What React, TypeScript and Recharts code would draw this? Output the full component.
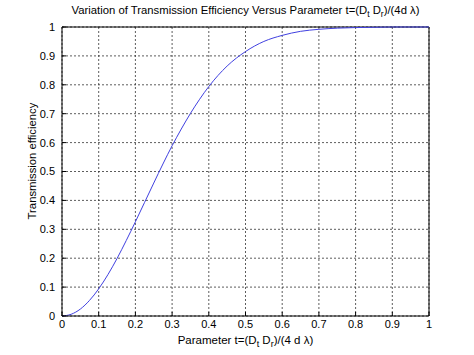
import React from 'react';
import { LineChart, Line, XAxis, YAxis, CartesianGrid, Label, ReferenceLine } from 'recharts';

const tValues = [0, 0.025, 0.05, 0.075, 0.1, 0.125, 0.15, 0.175, 0.2, 0.225, 0.25, 0.275, 0.3, 0.325, 0.35, 0.375, 0.4, 0.45, 0.5, 0.55, 0.6, 0.65, 0.7, 0.75, 0.8, 0.85, 0.9, 0.95, 1.0];
const efficiency = [0, 0.006, 0.024, 0.054, 0.094, 0.143, 0.199, 0.261, 0.326, 0.393, 0.46, 0.526, 0.589, 0.647, 0.701, 0.75, 0.794, 0.865, 0.915, 0.95, 0.971, 0.985, 0.992, 0.996, 0.998, 0.999, 1.0, 1.0, 1.0];
const xTicks = [0, 0.1, 0.2, 0.3, 0.4, 0.5, 0.6, 0.7, 0.8, 0.9, 1];
const yTicks = [0, 0.1, 0.2, 0.3, 0.4, 0.5, 0.6, 0.7, 0.8, 0.9, 1];

const data = tValues.map((t, i) => ({ t, eff: efficiency[i] }));

const FONT = '"Liberation Sans", Arial, sans-serif';

const Texts = () => (
  <g>
    <text x={245.5} y={14} textAnchor="middle" fontSize={11.3} fontFamily={FONT} fill="#000">
      Variation of Transmission Efficiency Versus Parameter t=(D
      <tspan dy={3} fontSize={8.5}>t</tspan>
      <tspan dy={-3}> D</tspan>
      <tspan dy={3} fontSize={8.5}>r</tspan>
      <tspan dy={-3}>)/(4d λ)</tspan>
    </text>
    <text x={245.5} y={344} textAnchor="middle" fontSize={11.5} fontFamily={FONT} fill="#000">
      Parameter t=(D
      <tspan dy={3} fontSize={9}>t</tspan>
      <tspan dy={-3}> D</tspan>
      <tspan dy={3} fontSize={9}>r</tspan>
      <tspan dy={-3}>)/(4 d λ)</tspan>
    </text>
  </g>
);

const YTitle = () => (
  <text x={0} y={0} transform="translate(36,161) rotate(-90)" textAnchor="middle" fontSize={11.3} fontFamily={FONT} fill="#000">
    Transmission efficiency
  </text>
);

export default function App() {
  return (
    <div style={{ position: 'absolute', left: 0, top: 0, width: 474, height: 355, background: '#fff' }}>
      <LineChart width={474} height={355} data={data} margin={{ top: 27, right: 45, left: 0, bottom: 0 }}>
        <CartesianGrid stroke="#333" strokeDasharray="2 2" strokeWidth={0.8} />
        <XAxis
          dataKey="t"
          type="number"
          domain={[0, 1]}
          ticks={xTicks}
          height={39}
          stroke="#000"
          tickSize={-4}
          tickMargin={8}
          tick={{ fontSize: 11, fill: '#000', fontFamily: FONT }}
        >
          <Label content={<Texts />} />
        </XAxis>
        <YAxis
          type="number"
          domain={[0, 1]}
          ticks={yTicks}
          width={62}
          stroke="#000"
          tickSize={-4}
          tickMargin={11}
          tick={{ fontSize: 11, fill: '#000', fontFamily: FONT }}
        >
          <Label content={<YTitle />} />
        </YAxis>
        <ReferenceLine y={1} stroke="#000" strokeWidth={1} />
        <ReferenceLine x={1} stroke="#000" strokeWidth={1} />
        <Line
          type="monotone"
          dataKey="eff"
          stroke="#4040e0"
          strokeWidth={1}
          dot={false}
          isAnimationActive={false}
        />
      </LineChart>
    </div>
  );
}
